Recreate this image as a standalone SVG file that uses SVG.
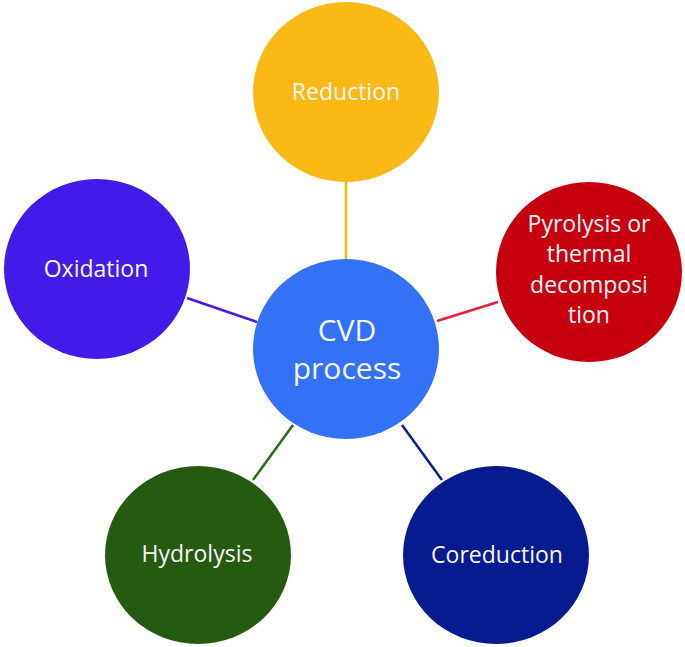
<svg xmlns="http://www.w3.org/2000/svg" width="685" height="647" viewBox="0 0 685 647">
<style>
.lbl{font-family:"Open Sans","Noto Sans","DejaVu Sans",sans-serif;font-size:23px;fill:#F7F7F7;text-anchor:middle}
.big{font-size:30px}
.conn line{stroke-width:2.5}
</style>
<rect width="685" height="647" fill="#FFFFFF"/>
<g id="connectors" class="conn">
<line x1="346" y1="182" x2="346" y2="261" stroke="#F5B700"/>
<line x1="187" y1="298" x2="257" y2="322" stroke="#4A1BE0"/>
<line x1="498" y1="302" x2="437" y2="321" stroke="#E8213A"/>
<line x1="253" y1="480" x2="293" y2="425" stroke="#2E6A1B"/>
<line x1="442" y1="480" x2="402" y2="425" stroke="#0A1F8A"/>
</g>
<g id="reduction">
<ellipse cx="346" cy="92" rx="93" ry="90" fill="#FAB914"/>
<text class="lbl" x="346" y="100">Reduction</text>
</g>
<g id="oxidation">
<ellipse cx="97" cy="269" rx="93" ry="90" fill="#421BE8"/>
<text class="lbl" x="96" y="277">Oxidation</text>
</g>
<g id="pyrolysis">
<ellipse cx="589" cy="272" rx="93" ry="90" fill="#C6000F"/>
<text class="lbl" x="589" y="232">Pyrolysis or</text>
<text class="lbl" x="589" y="262">thermal</text>
<text class="lbl" x="589" y="293">decomposi</text>
<text class="lbl" x="589" y="323">tion</text>
</g>
<g id="cvd">
<ellipse cx="346" cy="349" rx="93" ry="90" fill="#3371F6"/>
<text class="lbl big" x="347" y="341">CVD</text>
<text class="lbl big" x="347" y="379">process</text>
</g>
<g id="hydrolysis">
<ellipse cx="198" cy="555" rx="93" ry="89" fill="#255B10"/>
<text class="lbl" x="197" y="562">Hydrolysis</text>
</g>
<g id="coreduction">
<ellipse cx="496" cy="555" rx="93" ry="89" fill="#061B90"/>
<text class="lbl" x="497" y="563">Coreduction</text>
</g>
</svg>
